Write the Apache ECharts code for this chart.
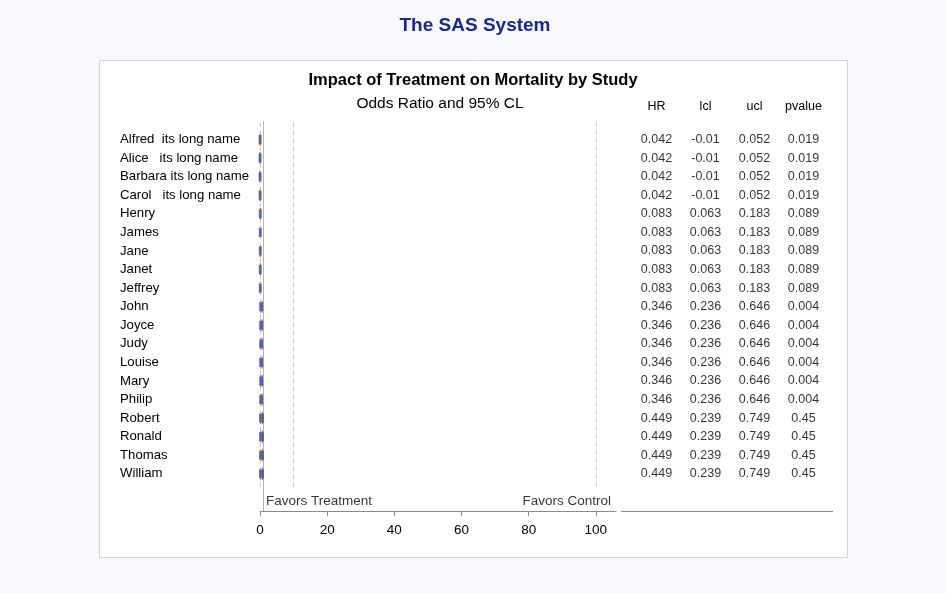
<!DOCTYPE html>
<html>
<head>
<meta charset="utf-8">
<script src="https://cdn.jsdelivr.net/npm/echarts@6/dist/echarts.min.js"></script>
<style>
  html, body { margin: 0; padding: 0; background: #f8f9fd; }
  #mybox { width: 946px; height: 593px; }
</style>
</head>
<body>
<div id="mybox"></div>
<script>
// 数据
var studies = ['Alfred  its long name', 'Alice   its long name', 'Barbara its long name', 'Carol   its long name',
  'Henry', 'James', 'Jane', 'Janet', 'Jeffrey', 'John', 'Joyce', 'Judy', 'Louise', 'Mary', 'Philip',
  'Robert', 'Ronald', 'Thomas', 'William'];
var hr     = [0.042, 0.042, 0.042, 0.042, 0.083, 0.083, 0.083, 0.083, 0.083, 0.346, 0.346, 0.346, 0.346, 0.346, 0.346, 0.449, 0.449, 0.449, 0.449];
var lcl    = [-0.01, -0.01, -0.01, -0.01, 0.063, 0.063, 0.063, 0.063, 0.063, 0.236, 0.236, 0.236, 0.236, 0.236, 0.236, 0.239, 0.239, 0.239, 0.239];
var ucl    = [0.052, 0.052, 0.052, 0.052, 0.183, 0.183, 0.183, 0.183, 0.183, 0.646, 0.646, 0.646, 0.646, 0.646, 0.646, 0.749, 0.749, 0.749, 0.749];
var pvalue = [0.019, 0.019, 0.019, 0.019, 0.089, 0.089, 0.089, 0.089, 0.089, 0.004, 0.004, 0.004, 0.004, 0.004, 0.004, 0.45, 0.45, 0.45, 0.45];
var tableCols = ['HR', 'lcl', 'ucl', 'pvalue'];
var xTicks = [0, 20, 40, 60, 80, 100];
var refSolid = [1];
var refDashed = [0, 10, 100];

var font = 'Liberation Sans, Arial, sans-serif';
var mycharts = echarts.init(document.getElementById('mybox'));

// 表格列数据
var tableSeries = [hr, lcl, ucl, pvalue].map(function (col, c) {
  return {
    type: 'scatter', xAxisIndex: 1, yAxisIndex: 1, symbolSize: 0, silent: true,
    data: col.map(function (v, i) { return [c, i, String(v)]; }),
    label: {
      show: true, position: 'inside', formatter: function (p) { return p.value[2]; },
      fontFamily: font, fontSize: 12.5, color: '#000'
    }
  };
});

var option = {
  backgroundColor: '#f8f9fd',
  animation: false,
  graphic: [
    { type: 'rect', z: -10, shape: { x: 99.5, y: 60.5, width: 748, height: 497 },
      style: { fill: '#fff', stroke: '#d4d4d4', lineWidth: 1 } },
    { type: 'text', x: 475, y: 26, style: { text: 'The SAS System', textAlign: 'center', textVerticalAlign: 'middle',
      font: 'bold 19px ' + font, fill: '#1b2a84' } },
    { type: 'text', x: 473, y: 80, style: { text: 'Impact of Treatment on Mortality by Study', textAlign: 'center',
      textVerticalAlign: 'middle', font: 'bold 16.5px ' + font, fill: '#000' } },
    { type: 'text', x: 440, y: 104, style: { text: 'Odds Ratio and 95% CL', textAlign: 'center',
      textVerticalAlign: 'middle', font: '15.5px ' + font, fill: '#000' } },
    { type: 'line', shape: { x1: 621, y1: 511.5, x2: 833, y2: 511.5 }, style: { stroke: '#8a8a8a', lineWidth: 1 } }
  ],
  grid: [
    { left: 260, top: 121, width: 356, height: 390 },
    { left: 632, top: 121, width: 196, height: 390 }
  ],
  xAxis: [
    {
      type: 'value', gridIndex: 0, position: 'bottom', min: 0, max: 106, interval: 20,
      axisLine: { onZero: false, lineStyle: { color: '#8a8a8a' } },
      axisTick: { inside: false, length: 5, lineStyle: { color: '#8a8a8a' } },
      axisLabel: { showMaxLabel: false, margin: 12, fontFamily: font, fontSize: 13.5, color: '#000',
        formatter: function (v) { return xTicks.indexOf(v) >= 0 ? String(v) : ''; } },
      splitLine: { show: false }
    },
    {
      type: 'category', gridIndex: 1, position: 'top', data: tableCols,
      axisLine: { show: false }, axisTick: { show: false },
      axisLabel: { margin: 8, fontFamily: font, fontSize: 12.5, color: '#000' }
    }
  ],
  yAxis: [
    {
      type: 'value', gridIndex: 0, inverse: true, min: -1, max: 20, interval: 1,
      axisLine: { show: false }, axisTick: { show: false }, splitLine: { show: false },
      axisLabel: { align: 'left', margin: 140, fontFamily: font, fontSize: 13.2, color: '#000',
        formatter: function (v) { return studies[v] || ''; } }
    },
    { type: 'value', gridIndex: 1, inverse: true, min: -1, max: 20, show: false }
  ],
  series: [
    {
      // 参考线
      type: 'scatter', xAxisIndex: 0, yAxisIndex: 0, data: [], silent: true,
      markLine: {
        symbol: 'none', silent: true, label: { show: false },
        data: refSolid.map(function (x) {
          return [{ coord: [x, -1], lineStyle: { color: '#b4b4b4', type: 'solid', width: 1 } }, { coord: [x, 20] }];
        }).concat(refDashed.map(function (x) {
          return [{ coord: [x, -0.9], lineStyle: { color: '#c8c8c8', type: [4, 4], width: 1 } }, { coord: [x, 18.9] }];
        }))
      }
    },
    {
      // 置信区间
      type: 'custom', xAxisIndex: 0, yAxisIndex: 0, silent: true,
      data: studies.map(function (s, i) { return [lcl[i], ucl[i], i]; }),
      renderItem: function (params, api) {
        var a = api.coord([api.value(0), api.value(2)]);
        var b = api.coord([api.value(1), api.value(2)]);
        var st = { stroke: '#dd5a28', lineWidth: 1 };
        return { type: 'group', children: [
          { type: 'line', shape: { x1: a[0], y1: a[1], x2: b[0], y2: b[1] }, style: st },
          { type: 'line', shape: { x1: a[0], y1: a[1] - 6, x2: a[0], y2: a[1] + 6 }, style: st },
          { type: 'line', shape: { x1: b[0], y1: b[1] - 6, x2: b[0], y2: b[1] + 6 }, style: st }
        ] };
      }
    },
    {
      // HR 点
      type: 'scatter', xAxisIndex: 0, yAxisIndex: 0, symbol: 'rect', z: 5,
      data: studies.map(function (s, i) { return [hr[i], i]; }),
      symbolSize: function (v) { return [Math.round(3 + v[0] * 4), 9]; },
      itemStyle: { color: '#3a56a8' }
    },
    {
      type: 'scatter', xAxisIndex: 0, yAxisIndex: 0, symbolSize: 0, silent: true,
      data: [[1.8, 19.45, 'Favors Treatment', 'left'], [104.5, 19.45, 'Favors Control', 'right']],
      label: { show: true, position: 'inside', fontFamily: font, fontSize: 13.5, color: '#000',
        formatter: function (p) { return p.value[2]; } }
    }
  ].concat(tableSeries)
};
// 标签对齐
option.series[3].data = option.series[3].data.map(function (d) {
  return { value: d, label: { align: d[3] } };
});

mycharts.setOption(option);
</script>
</body>
</html>
